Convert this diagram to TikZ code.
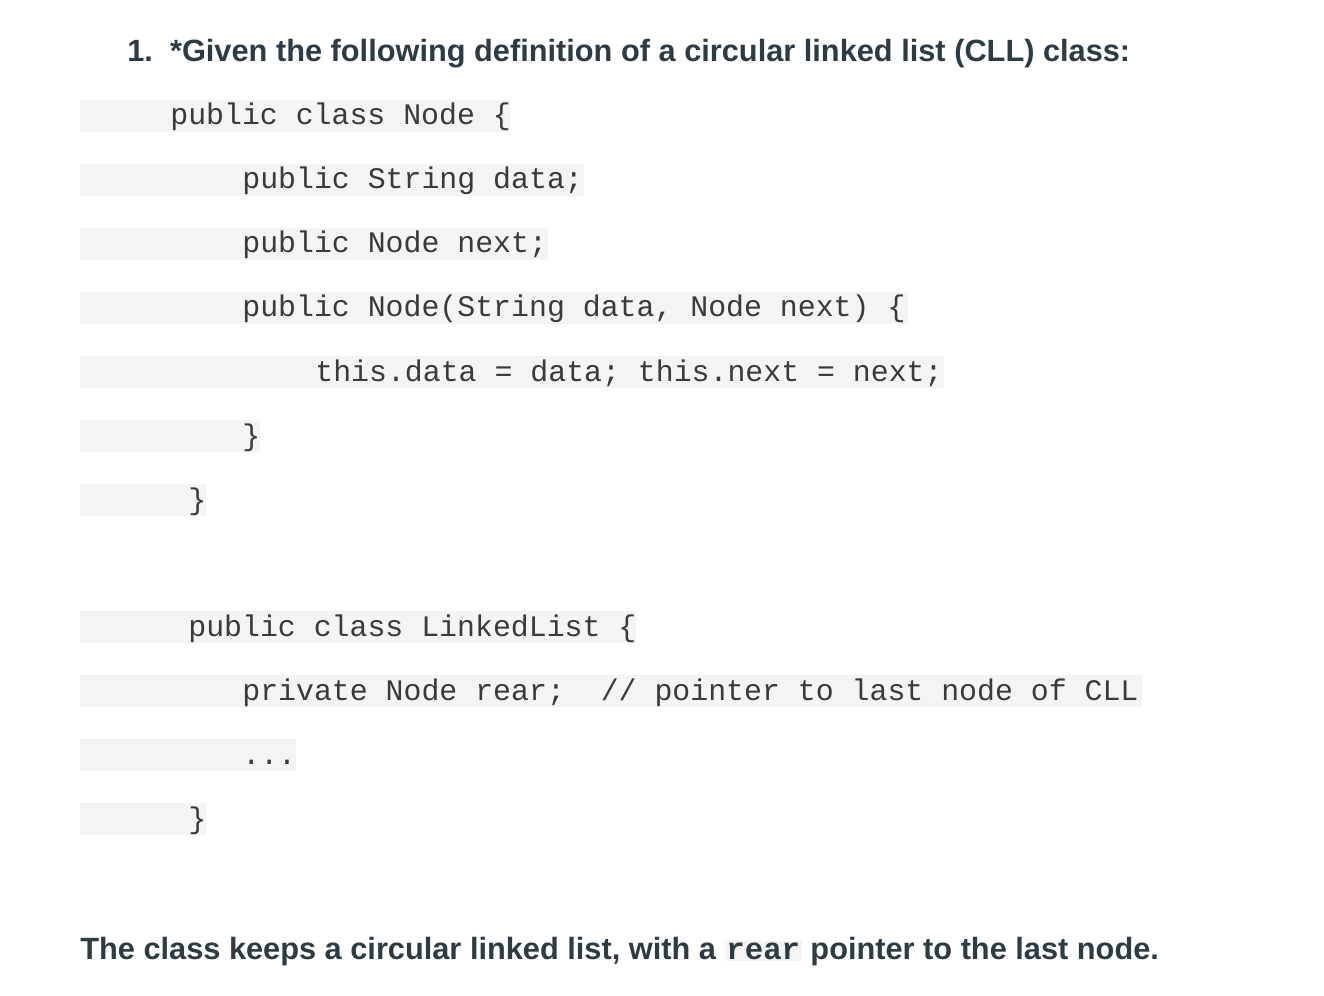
\documentclass[tikz,border=0pt]{standalone}
\usepackage{fontspec}
\setmainfont{Liberation Sans}
\setmonofont{Liberation Mono}
\definecolor{ink}{HTML}{2D3B45}
\definecolor{codeink}{HTML}{3A3A3A}
\definecolor{codebg}{HTML}{F4F4F4}
\tikzset{
  codeline/.style={anchor=base west,inner sep=0pt,text=codeink,font=\fontsize{17}{20}\selectfont\ttfamily},
  headline/.style={anchor=base west,inner sep=0pt,text=ink,font=\fontsize{17.5}{21}\selectfont\bfseries},
}
\begin{document}
\begin{tikzpicture}[x=0.02cm,y=-0.02cm]
	\useasboundingbox (0,0) rectangle (1324,996);
	\node[headline] (title) at (127,62) {1.\ \ *Given the following definition of a circular linked list (CLL) class:};
	% grey bars behind the code lines
	\foreach\y/\r in {100/510,164/584,228/548,292/908,356/944,420/260,484/206,611/636,675/1142,739/296,803/206} {
		\fill[codebg] (80,\y) rectangle (\r,\y+32);
	}
	\node[codeline] (l1) at (170,125) {public class Node \{};
	\node[codeline] (l2) at (242,189) {public String data;};
	\node[codeline] (l3) at (242,253) {public Node next;};
	\node[codeline] (l4) at (242,317) {public Node(String data, Node next) \{};
	\node[codeline] (l5) at (315,381) {this.data = data; this.next = next;};
	\node[codeline] (l6) at (242,445) {\}};
	\node[codeline] (l7) at (188,509) {\}};
	\node[codeline] (l8) at (188,636) {public class LinkedList \{};
	\node[codeline] (l9) at (242,700) {private Node rear;\ \ // pointer to last node of CLL};
	\node[codeline] (l10) at (242,764) {...};
	\node[codeline] (l11) at (188,828) {\}};
	\node[headline] (closing) at (80,959) {The class keeps a circular linked list, with a \setlength{\fboxsep}{1pt}\colorbox{codebg}{\ttfamily\bfseries rear} pointer to the last node.};
\end{tikzpicture}
\end{document}
